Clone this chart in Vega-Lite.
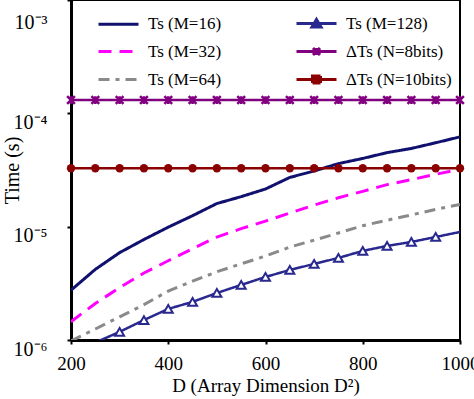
{
  "$schema": "https://vega.github.io/schema/vega-lite/v6.json",
  "width": 389,
  "height": 340,
  "autosize": {"type": "none"},
  "padding": {"left": 71, "top": 0, "right": 14, "bottom": 59},
  "config": {
    "font": "Liberation Serif",
    "view": {"stroke": "black", "strokeWidth": 2},
    "axis": {"grid": false, "domainColor": "black", "domainWidth": 3, "tickColor": "black", "tickWidth": 2, "tickSize": 4, "labelColor": "black", "titleColor": "black", "titleFontWeight": "normal", "labelFont": "Liberation Serif", "titleFont": "Liberation Serif"}
  },
  "data": {"values": [
    {"D": 200, "T": 2.75e-6, "series": "Ts (M=16)"},
    {"D": 250, "T": 4.2e-6, "series": "Ts (M=16)"},
    {"D": 300, "T": 5.9e-6, "series": "Ts (M=16)"},
    {"D": 350, "T": 7.7e-6, "series": "Ts (M=16)"},
    {"D": 400, "T": 9.9e-6, "series": "Ts (M=16)"},
    {"D": 450, "T": 1.25e-5, "series": "Ts (M=16)"},
    {"D": 500, "T": 1.6e-5, "series": "Ts (M=16)"},
    {"D": 550, "T": 1.84e-5, "series": "Ts (M=16)"},
    {"D": 600, "T": 2.15e-5, "series": "Ts (M=16)"},
    {"D": 650, "T": 2.72e-5, "series": "Ts (M=16)"},
    {"D": 700, "T": 3.1e-5, "series": "Ts (M=16)"},
    {"D": 750, "T": 3.6e-5, "series": "Ts (M=16)"},
    {"D": 800, "T": 4.0e-5, "series": "Ts (M=16)"},
    {"D": 850, "T": 4.5e-5, "series": "Ts (M=16)"},
    {"D": 900, "T": 4.9e-5, "series": "Ts (M=16)"},
    {"D": 950, "T": 5.5e-5, "series": "Ts (M=16)"},
    {"D": 1000, "T": 6.2e-5, "series": "Ts (M=16)"},
    {"D": 200, "T": 1.45e-6, "series": "Ts (M=32)"},
    {"D": 250, "T": 2.1e-6, "series": "Ts (M=32)"},
    {"D": 300, "T": 2.9e-6, "series": "Ts (M=32)"},
    {"D": 350, "T": 3.9e-6, "series": "Ts (M=32)"},
    {"D": 400, "T": 5.0e-6, "series": "Ts (M=32)"},
    {"D": 450, "T": 6.4e-6, "series": "Ts (M=32)"},
    {"D": 500, "T": 8.1e-6, "series": "Ts (M=32)"},
    {"D": 550, "T": 9.6e-6, "series": "Ts (M=32)"},
    {"D": 600, "T": 1.12e-5, "series": "Ts (M=32)"},
    {"D": 650, "T": 1.32e-5, "series": "Ts (M=32)"},
    {"D": 700, "T": 1.55e-5, "series": "Ts (M=32)"},
    {"D": 750, "T": 1.8e-5, "series": "Ts (M=32)"},
    {"D": 800, "T": 2.05e-5, "series": "Ts (M=32)"},
    {"D": 850, "T": 2.35e-5, "series": "Ts (M=32)"},
    {"D": 900, "T": 2.6e-5, "series": "Ts (M=32)"},
    {"D": 950, "T": 2.9e-5, "series": "Ts (M=32)"},
    {"D": 1000, "T": 3.2e-5, "series": "Ts (M=32)"},
    {"D": 200, "T": 0.98e-6, "series": "Ts (M=64)"},
    {"D": 250, "T": 1.25e-6, "series": "Ts (M=64)"},
    {"D": 300, "T": 1.6e-6, "series": "Ts (M=64)"},
    {"D": 350, "T": 2.05e-6, "series": "Ts (M=64)"},
    {"D": 400, "T": 2.7e-6, "series": "Ts (M=64)"},
    {"D": 450, "T": 3.3e-6, "series": "Ts (M=64)"},
    {"D": 500, "T": 4.0e-6, "series": "Ts (M=64)"},
    {"D": 550, "T": 4.7e-6, "series": "Ts (M=64)"},
    {"D": 600, "T": 5.5e-6, "series": "Ts (M=64)"},
    {"D": 650, "T": 6.6e-6, "series": "Ts (M=64)"},
    {"D": 700, "T": 7.6e-6, "series": "Ts (M=64)"},
    {"D": 750, "T": 8.8e-6, "series": "Ts (M=64)"},
    {"D": 800, "T": 1.02e-5, "series": "Ts (M=64)"},
    {"D": 850, "T": 1.14e-5, "series": "Ts (M=64)"},
    {"D": 900, "T": 1.27e-5, "series": "Ts (M=64)"},
    {"D": 950, "T": 1.42e-5, "series": "Ts (M=64)"},
    {"D": 1000, "T": 1.57e-5, "series": "Ts (M=64)"},
    {"D": 250, "T": 0.95e-6, "series": "Ts (M=128)"},
    {"D": 300, "T": 1.18e-6, "series": "Ts (M=128)"},
    {"D": 350, "T": 1.5e-6, "series": "Ts (M=128)"},
    {"D": 400, "T": 1.88e-6, "series": "Ts (M=128)"},
    {"D": 450, "T": 2.17e-6, "series": "Ts (M=128)"},
    {"D": 500, "T": 2.6e-6, "series": "Ts (M=128)"},
    {"D": 550, "T": 3.06e-6, "series": "Ts (M=128)"},
    {"D": 600, "T": 3.6e-6, "series": "Ts (M=128)"},
    {"D": 650, "T": 4.15e-6, "series": "Ts (M=128)"},
    {"D": 700, "T": 4.69e-6, "series": "Ts (M=128)"},
    {"D": 750, "T": 5.3e-6, "series": "Ts (M=128)"},
    {"D": 800, "T": 6.11e-6, "series": "Ts (M=128)"},
    {"D": 850, "T": 6.76e-6, "series": "Ts (M=128)"},
    {"D": 900, "T": 7.33e-6, "series": "Ts (M=128)"},
    {"D": 950, "T": 8.11e-6, "series": "Ts (M=128)"},
    {"D": 1000, "T": 8.98e-6, "series": "Ts (M=128)"},
    {"D": 200, "T": 1.31e-4, "series": "ΔTs (N=8bits)"},
    {"D": 250, "T": 1.31e-4, "series": "ΔTs (N=8bits)"},
    {"D": 300, "T": 1.31e-4, "series": "ΔTs (N=8bits)"},
    {"D": 350, "T": 1.31e-4, "series": "ΔTs (N=8bits)"},
    {"D": 400, "T": 1.31e-4, "series": "ΔTs (N=8bits)"},
    {"D": 450, "T": 1.31e-4, "series": "ΔTs (N=8bits)"},
    {"D": 500, "T": 1.31e-4, "series": "ΔTs (N=8bits)"},
    {"D": 550, "T": 1.31e-4, "series": "ΔTs (N=8bits)"},
    {"D": 600, "T": 1.31e-4, "series": "ΔTs (N=8bits)"},
    {"D": 650, "T": 1.31e-4, "series": "ΔTs (N=8bits)"},
    {"D": 700, "T": 1.31e-4, "series": "ΔTs (N=8bits)"},
    {"D": 750, "T": 1.31e-4, "series": "ΔTs (N=8bits)"},
    {"D": 800, "T": 1.31e-4, "series": "ΔTs (N=8bits)"},
    {"D": 850, "T": 1.31e-4, "series": "ΔTs (N=8bits)"},
    {"D": 900, "T": 1.31e-4, "series": "ΔTs (N=8bits)"},
    {"D": 950, "T": 1.31e-4, "series": "ΔTs (N=8bits)"},
    {"D": 1000, "T": 1.31e-4, "series": "ΔTs (N=8bits)"},
    {"D": 200, "T": 3.28e-5, "series": "ΔTs (N=10bits)"},
    {"D": 250, "T": 3.28e-5, "series": "ΔTs (N=10bits)"},
    {"D": 300, "T": 3.28e-5, "series": "ΔTs (N=10bits)"},
    {"D": 350, "T": 3.28e-5, "series": "ΔTs (N=10bits)"},
    {"D": 400, "T": 3.28e-5, "series": "ΔTs (N=10bits)"},
    {"D": 450, "T": 3.28e-5, "series": "ΔTs (N=10bits)"},
    {"D": 500, "T": 3.28e-5, "series": "ΔTs (N=10bits)"},
    {"D": 550, "T": 3.28e-5, "series": "ΔTs (N=10bits)"},
    {"D": 600, "T": 3.28e-5, "series": "ΔTs (N=10bits)"},
    {"D": 650, "T": 3.28e-5, "series": "ΔTs (N=10bits)"},
    {"D": 700, "T": 3.28e-5, "series": "ΔTs (N=10bits)"},
    {"D": 750, "T": 3.28e-5, "series": "ΔTs (N=10bits)"},
    {"D": 800, "T": 3.28e-5, "series": "ΔTs (N=10bits)"},
    {"D": 850, "T": 3.28e-5, "series": "ΔTs (N=10bits)"},
    {"D": 900, "T": 3.28e-5, "series": "ΔTs (N=10bits)"},
    {"D": 950, "T": 3.28e-5, "series": "ΔTs (N=10bits)"},
    {"D": 1000, "T": 3.28e-5, "series": "ΔTs (N=10bits)"}
  ]},
  "encoding": {
    "x": {"field": "D", "type": "quantitative",
      "scale": {"domain": [200, 1000], "nice": false, "zero": false},
      "axis": {"title": "D (Array Dimension D²)", "values": [200, 400, 600, 800, 1000], "labelFontSize": 19, "labelFlush": false, "labelPadding": 10, "titleFontSize": 19, "titleY": 45, "titleBaseline": "middle", "format": "d"}},
    "y": {"field": "T", "type": "quantitative",
      "scale": {"type": "log", "domain": [1e-6, 1e-3], "nice": false},
      "axis": {"title": "Time (s)", "values": [1e-6, 1e-5, 1e-4, 1e-3], "labelFontSize": 20, "labelPadding": 20, "labelBaseline": "middle",
        "labelOffset": {"condition": {"test": "datum.value > 5e-4", "value": 22}, "value": 9},
        "labelExpr": "datum.value < 2e-6 ? '10⁻⁶' : datum.value < 2e-5 ? '10⁻⁵' : datum.value < 2e-4 ? '10⁻⁴' : '10⁻³'",
        "titleFontSize": 20, "titleX": -59, "titleY": 170, "titleBaseline": "middle"}}
  },
  "layer": [
    {
      "transform": [{"filter": "indexof(['Ts (M=16)','Ts (M=32)','Ts (M=64)'], datum.series) >= 0"}],
      "mark": {"type": "line", "strokeWidth": 3, "clip": true},
      "encoding": {
        "color": {"field": "series", "type": "nominal",
          "scale": {"domain": ["Ts (M=16)", "Ts (M=32)", "Ts (M=64)", "Ts (M=128)", "ΔTs (N=8bits)", "ΔTs (N=10bits)"],
                    "range": ["#10106e", "#ff00ff", "#8a8a8a", "#28288f", "#800080", "#8b0000"]},
          "legend": {"orient": "none", "legendX": 36, "legendY": 12, "columns": 2, "title": null, "padding": 0,
            "symbolSize": 400, "symbolStrokeWidth": 3, "symbolType": "M-2,0H2",
            "labelFont": "Liberation Serif", "labelFontSize": 17, "labelColor": "black", "labelOffset": 18, "labelLimit": 200,
            "columnPadding": 68, "rowPadding": 7,
            "encode": {"symbols": {"update": {
              "shape": {"signal": "datum.value === 'Ts (M=128)' ? 'M-2,0H2M-0.45,0.35L0,-0.4L0.45,0.35Z' : datum.value === 'ΔTs (N=8bits)' ? 'M-2,0H2M-0.35,-0.35L0.35,0.35M-0.35,0.35L0.35,-0.35M0,-0.35V0.35' : datum.value === 'ΔTs (N=10bits)' ? 'M-2,0H2M-0.4,-0.35H0.4V0.35H-0.4Z' : 'M-2,0H2'"},
              "fill": {"signal": "datum.value === 'Ts (M=128)' ? '#28288f' : datum.value === 'ΔTs (N=10bits)' ? '#8b0000' : 'transparent'"}
            }}}}},
        "strokeDash": {"field": "series", "type": "nominal",
          "scale": {"domain": ["Ts (M=16)", "Ts (M=32)", "Ts (M=64)", "Ts (M=128)", "ΔTs (N=8bits)", "ΔTs (N=10bits)"],
                    "range": [[1, 0], [13, 8], [11, 6, 4, 6], [1, 0], [1, 0], [1, 0]]}}
      }
    },
    {
      "transform": [{"filter": "indexof(['Ts (M=16)','Ts (M=32)','Ts (M=64)'], datum.series) < 0"}],
      "mark": {"type": "line", "strokeWidth": 2.5, "clip": true},
      "encoding": {
        "color": {"field": "series", "type": "nominal"},
        "strokeDash": {"field": "series", "type": "nominal"}
      }
    },
    {
      "transform": [{"filter": "datum.series === 'Ts (M=128)' && datum.D >= 300 && datum.D <= 950"}],
      "mark": {"type": "point", "shape": "triangle-up", "size": 80, "filled": true, "fill": "white", "stroke": "#28288f", "strokeWidth": 2, "opacity": 1}
    },
    {
      "transform": [{"filter": "datum.series === 'ΔTs (N=8bits)'"}],
      "mark": {"type": "point", "shape": "M-1,-1L1,1M-1,1L1,-1M0,-1V1", "size": 60, "filled": false, "stroke": "#800080", "strokeWidth": 2.5, "opacity": 1}
    },
    {
      "transform": [{"filter": "datum.series === 'ΔTs (N=10bits)'"}],
      "mark": {"type": "point", "shape": "circle", "size": 70, "filled": true, "fill": "#8b0000", "opacity": 1}
    }
  ]
}
